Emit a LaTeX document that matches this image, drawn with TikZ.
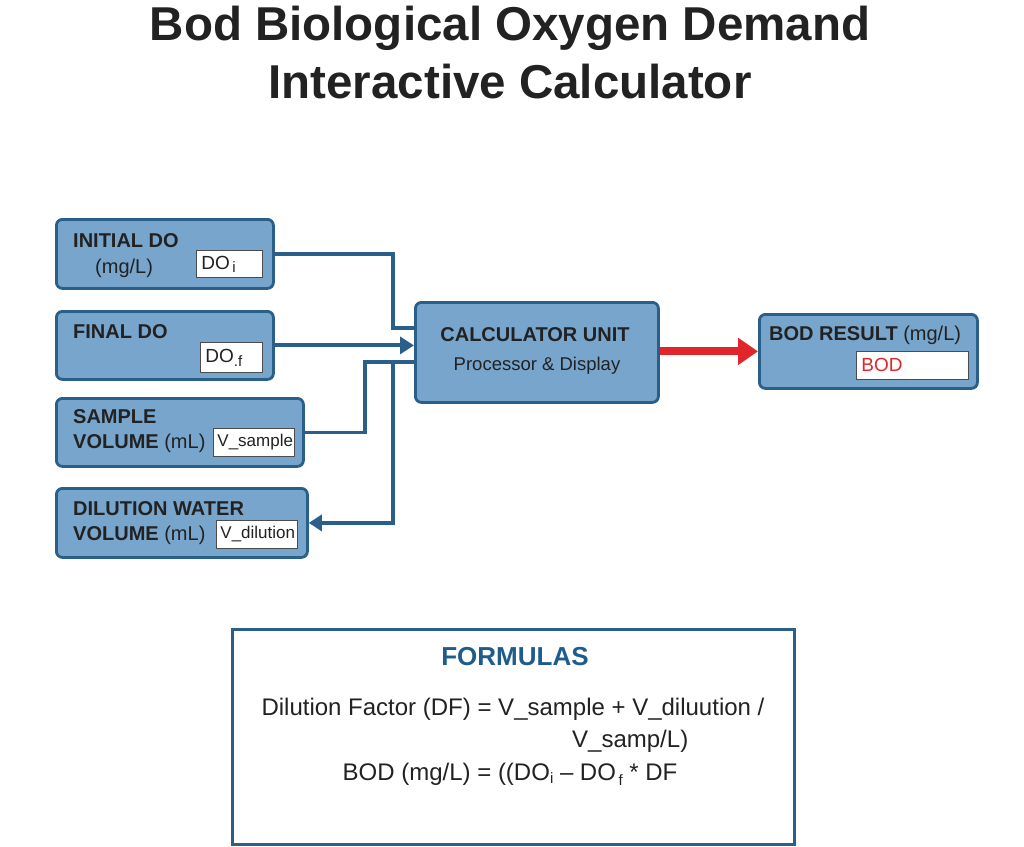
\documentclass[tikz,border=0pt]{standalone}
\usepackage{fontspec}
\setmainfont{Liberation Sans}
\usepackage{xcolor}
\usetikzlibrary{arrows.meta}
\usetikzlibrary{positioning}

\definecolor{boxfill}{HTML}{77A5CC}
\definecolor{boxline}{HTML}{2A5F8A}
\definecolor{txtdark}{HTML}{222222}
\definecolor{redarrow}{HTML}{E0262A}
\definecolor{formblue}{HTML}{1F5C8E}

\newcommand{\lblsize}{\fontsize{20}{22}\selectfont}
\newcommand{\formsize}{\fontsize{24}{26}\selectfont}
\newcommand{\subsize}{\fontsize{15}{16}\selectfont}

\tikzset{
  inbox/.style={draw=boxline, line width=2.8pt, fill=boxfill, rounded corners=6pt,
    anchor=north west, inner sep=0pt},
  valbox/.style={draw=black!70, line width=0.9pt, fill=white, anchor=north west,
    inner xsep=5pt, inner ysep=0pt, align=left, font=\fontsize{19}{20}\selectfont, text=txtdark},
  lbl/.style={anchor=west, inner sep=0pt, font=\lblsize, text=txtdark},
  wire/.style={draw=boxline, line width=3.2pt},
  formline/.style={inner sep=0pt, font=\formsize, text=txtdark},
}

\begin{document}
\begin{tikzpicture}[x=1pt, y=-1pt]
    \useasboundingbox (0,0) rectangle (1024,846);

    % title
    \node[align=center, inner sep=0pt, text=txtdark,
        font=\bfseries\fontsize{47.5}{58}\selectfont] (title) at (510,53)
        {Bod Biological Oxygen Demand\\Interactive Calculator};

    % input boxes
    \node[inbox, minimum width=217pt, minimum height=69pt] (ini) at (55,218) {};
    \node[inbox, minimum width=217pt, minimum height=68pt] (fin) at (55,310) {};
    \node[inbox, minimum width=247pt, minimum height=68pt] (smp) at (55,397) {};
    \node[inbox, minimum width=251pt, minimum height=69pt] (dil) at (55,487) {};

    \node[lbl, font=\bfseries\lblsize] (iniA) at (73,241) {INITIAL DO};
    \node[lbl] (iniB) at (95,268) {(mg/L)};
    \node[valbox, text width=56pt, minimum height=27pt] (iniV) at (196,250)
        {DO\raisebox{-3pt}{\subsize\,i}};

    \node[lbl, font=\bfseries\lblsize] (finA) at (73,332) {FINAL DO};
    \node[valbox, text width=52pt, minimum height=30pt] (finV) at (200,342)
        {DO\raisebox{-4pt}{\subsize.f}};

    \node[lbl, font=\bfseries\lblsize] (smpA) at (73,417) {SAMPLE};
    \node[lbl] (smpB) at (73,443) {\textbf{VOLUME} (mL)};
    \node[valbox, text width=73pt, minimum height=28pt, inner xsep=4pt,
        font=\fontsize{17}{18}\selectfont] (smpV) at (213,428) {V\_sample};

    \node[lbl, font=\bfseries\lblsize] (dilA) at (73,509) {DILUTION WATER};
    \node[lbl] (dilB) at (73,535) {\textbf{VOLUME} (mL)};
    \node[valbox, text width=73pt, minimum height=28pt, inner xsep=4pt,
        font=\fontsize{17}{18}\selectfont] (dilV) at (216,520) {V\_dilution};

    % calculator and result
    \node[inbox, minimum width=243pt, minimum height=100pt] (calc) at (414,301) {};
    \node[inner sep=0pt, text=txtdark, font=\bfseries\lblsize] (calcA) at (535,335)
        {CALCULATOR UNIT};
    \node[inner sep=0pt, text=txtdark, font=\fontsize{18.5}{20}\selectfont] (calcB) at (537,366)
        {Processor \& Display};

    \node[inbox, minimum width=218pt, minimum height=74pt] (res) at (758,313) {};
    \node[lbl] (resA) at (769,335) {\textbf{BOD RESULT} (mg/L)};
    \node[valbox, text width=102pt, minimum height=28pt, text=redarrow] (resV) at (856,351)
        {BOD};

    % connectors
    \coordinate (jA) at (393,328);
    \coordinate (jB) at (365,362);
    \coordinate (jC) at (393,362);
    \draw[wire] (ini.east) -| (jA) -- (jA -| calc.west);
    \draw[wire, line width=4pt, -{Triangle[length=14pt,width=17pt]}]
        (fin.east) -- (fin.east -| calc.west);
    \draw[wire] (smp.east) -| (jB) -- (jB -| calc.west);
    \draw[wire, -{Triangle[length=13pt,width=16pt]}] (jC) |- (dil.east);
    \draw[draw=redarrow, line width=8pt, -{Triangle[length=20pt,width=26pt]}]
        (res.west -| calc.east) -- (res.west);

    % formulas
    \node[draw=boxline, line width=3pt, fill=white, anchor=north west, inner sep=0pt,
        minimum width=562pt, minimum height=215pt] (formbox) at (231,628) {};
    \node[inner sep=0pt, text=formblue, font=\bfseries\fontsize{26}{28}\selectfont]
        (formT) at (515,657) {FORMULAS};
    \node[formline] (formA) at (513,709) {Dilution Factor (DF) = V\_sample + V\_diluution /};
    \node[formline, anchor=west] (formB) at (572,741) {V\_samp/L)};
    \node[formline] (formC) at (510,774)
        {BOD (mg/L) = ((DO\raisebox{-3pt}{\subsize i} -- DO\raisebox{-5pt}{\subsize\,f} * DF};
\end{tikzpicture}
\end{document}
